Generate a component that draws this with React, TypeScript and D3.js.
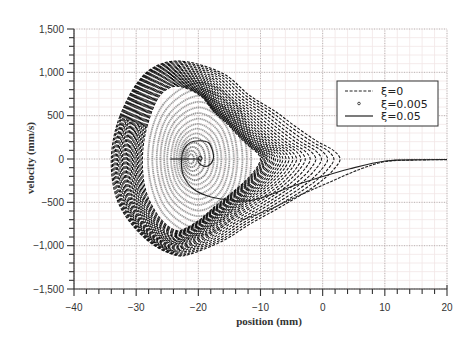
import * as d3 from "d3";

// ξ = 0 : drifting closed orbits (extents, outer → inner)
const orbitLeft = [-34.0, -33.8, -33.6, -33.4, -33.2, -33.0, -32.8, -32.6, -32.4, -32.2, -32.0, -31.8, -31.6, -31.4, -31.2, -31.0, -30.8, -30.6, -30.4, -30.2, -30.0, -29.8, -29.6, -29.4, -29.2, -29.0];
const orbitRight = [2.8, 1.8, 0.8, -0.2, -1.1, -2.0, -2.8, -3.5, -4.2, -4.8, -5.4, -5.9, -6.4, -6.8, -7.2, -7.6, -7.9, -8.2, -8.5, -8.8, -9.0, -9.2, -9.4, -9.6, -9.8, -10.0];
const orbitTop = [1130, 1120, 1108, 1096, 1084, 1072, 1060, 1048, 1036, 1024, 1012, 1000, 988, 976, 964, 952, 940, 928, 916, 904, 892, 880, 870, 860, 850, 840];
const orbitBottom = [-1120, -1110, -1098, -1086, -1074, -1062, -1050, -1038, -1026, -1014, -1002, -990, -978, -966, -954, -942, -930, -918, -906, -894, -882, -870, -860, -850, -840, -830];
// orbit profile: [fraction of width, fraction of top/bottom]
const orbitProfile: [number, number][] = [
  [0, 0], [0.038, 0.44], [0.155, 0.886], [0.28, 1], [0.49, 0.87], [0.606, 0.646],
  [0.72, 0.48], [0.8, 0.34], [0.9, 0.18], [0.975, 0.08], [1, 0], [0.975, -0.1],
  [0.9, -0.26], [0.75, -0.48], [0.606, -0.67], [0.49, -0.84], [0.345, -0.98],
  [0.3, -1], [0.2, -0.91], [0.095, -0.69], [0.024, -0.41],
];
// ξ = 0 entry path
const tailZeroX = [20, 15, 10.1, 6.1, 1.2, -3.6, -8.4, -13.3];
const tailZeroV = [-8, -12, -29, -115, -265, -415, -576, -714];

// ξ = 0.005 : decaying rings around the rest point
const ringCenter = [-19.8, -19.8, -19.8, -19.9, -19.9, -20.0, -20.0, -20.1, -20.2, -20.3, -20.5, -20.7, -20.9, -21.1, -21.2];
const ringAmpX = [8.3, 7.6, 6.9, 6.2, 5.6, 5.0, 4.4, 3.8, 3.3, 2.8, 2.3, 1.8, 1.3, 0.9, 0.5];
const ringAmpV = [880, 805, 730, 660, 595, 530, 465, 405, 350, 295, 245, 190, 140, 95, 55];

// ξ = 0.05 : path into the spiral
const dampX = [20, 15.7, 10.1, 4.4, -0.9, -5.2, -8.0, -11.7, -15.4, -18.6, -20.8, -22.4, -22.7, -22.3, -21.3, -19.7, -18.4, -17.8, -17.6, -18.4, -19.2, -20.0, -20.0, -19.7, -19.4, -19.7, -19.9];
const dampV = [-6, -9, -23, -112, -222, -322, -400, -480, -469, -423, -346, -192, 0, 115, 192, 211, 190, 115, 0, -77, -81, -35, 8, 35, 8, -20, 0];
const restX = [-24.5, -19.8];
const restV = [0, 0];

const xTicks = [-40, -30, -20, -10, 0, 10, 20];
const yTicks = [-1500, -1000, -500, 0, 500, 1000, 1500];
const legendLabels = ["ξ=0", "ξ=0.005", "ξ=0.05"];

const W = 474;
const H = 352;
const m = { left: 74, right: 27, top: 29, bottom: 63 };

export default function App() {
  const x = d3.scaleLinear().domain([-40, 20]).range([m.left, W - m.right]);
  const y = d3.scaleLinear().domain([-1500, 1500]).range([H - m.bottom, m.top]);
  const fmt = d3.format(",");

  const closed = d3
    .line<[number, number]>()
    .x((d) => x(d[0]))
    .y((d) => y(d[1]))
    .curve(d3.curveCatmullRomClosed.alpha(0.5));
  const open = d3
    .line<[number, number]>()
    .x((d) => x(d[0]))
    .y((d) => y(d[1]))
    .curve(d3.curveCatmullRom.alpha(0.5));

  const orbits = orbitLeft.map((L, i) => {
    const R = orbitRight[i];
    const pts = orbitProfile.map(
      ([u, w]) => [L + u * (R - L), w >= 0 ? w * orbitTop[i] : -w * orbitBottom[i]] as [number, number],
    );
    return closed(pts) ?? "";
  });

  const rings = ringAmpX.map((ax, i) => {
    const c = ringCenter[i];
    const av = ringAmpV[i];
    const pts: [number, number][] = [
      [c - ax, 0], [c - ax * 0.71, av * 0.71], [c, av], [c + ax * 0.71, av * 0.71], [c + ax, 0],
      [c + ax * 0.71, -av * 0.71], [c, -av], [c - ax * 0.71, -av * 0.71],
    ];
    return closed(pts) ?? "";
  });

  const xMinor = d3.range(-40, 20.01, 2);
  const yMinor = d3.range(-1500, 1500.1, 100);

  return (
    <svg width={W} height={H} style={{ position: "absolute", left: 0, top: 0, background: "#fff" }}>
      {/* minor grid */}
      {xMinor.map((v) => (
        <line key={`gx${v}`} x1={x(v)} x2={x(v)} y1={y(-1500)} y2={y(1500)} stroke="#f1e6e6" strokeWidth={0.8} />
      ))}
      {yMinor.map((v) => (
        <line key={`gy${v}`} x1={x(-40)} x2={x(20)} y1={y(v)} y2={y(v)} stroke="#f1e6e6" strokeWidth={0.8} />
      ))}
      {/* major grid */}
      {xTicks.map((v) => (
        <line key={`Gx${v}`} x1={x(v)} x2={x(v)} y1={y(-1500)} y2={y(1500)} stroke="#a8a8a8" strokeWidth={0.8} strokeDasharray="1 1.5" />
      ))}
      {yTicks.map((v) => (
        <line key={`Gy${v}`} x1={x(-40)} x2={x(20)} y1={y(v)} y2={y(v)} stroke="#a8a8a8" strokeWidth={0.8} strokeDasharray="1 1.5" />
      ))}

      {/* ξ = 0.005 */}
      {rings.map((d, i) => (
        <path key={`r${i}`} d={d} fill="none" stroke={i < 10 ? "#9e9e9e" : "#7e7e7e"} strokeWidth={1.8} strokeDasharray="1.3 0.6" />
      ))}

      {/* ξ = 0 */}
      {orbits.map((d, i) => (
        <path key={`o${i}`} d={d} fill="none" stroke="#111" strokeWidth={1.05} strokeDasharray="3 1.5" />
      ))}
      <path
        d={open(tailZeroX.map((v, i) => [v, tailZeroV[i]] as [number, number])) ?? ""}
        fill="none"
        stroke="#222"
        strokeWidth={1.1}
        strokeDasharray="3 1.2"
      />

      {/* ξ = 0.05 */}
      <path
        d={open(dampX.map((v, i) => [v, dampV[i]] as [number, number])) ?? ""}
        fill="none"
        stroke="#222"
        strokeWidth={1.1}
      />
      <path
        d={open(restX.map((v, i) => [v, restV[i]] as [number, number])) ?? ""}
        fill="none"
        stroke="#222"
        strokeWidth={1.1}
      />

      {/* axes */}
      <line x1={x(-40)} x2={x(20)} y1={y(-1500)} y2={y(-1500)} stroke="#333" strokeWidth={1.2} />
      <line x1={x(-40)} x2={x(-40)} y1={y(-1500)} y2={y(1500)} stroke="#333" strokeWidth={1.2} />
      {xMinor.map((v) => (
        <line key={`tx${v}`} x1={x(v)} x2={x(v)} y1={y(-1500)} y2={y(-1500) + (v % 10 === 0 ? 7 : 5)} stroke="#333" strokeWidth={1.1} />
      ))}
      <line x1={x(20)} x2={x(20)} y1={y(-1500)} y2={y(-1500) - 4} stroke="#333" strokeWidth={1.1} />
      {yMinor.map((v) => (
        <line key={`ty${v}`} x1={x(-40)} x2={x(-40) - (v % 500 === 0 ? 7 : 5)} y1={y(v)} y2={y(v)} stroke="#333" strokeWidth={1.1} />
      ))}
      {xTicks.map((v) => (
        <text key={`lx${v}`} x={x(v)} y={y(-1500) + 22} textAnchor="middle" fontFamily="Liberation Sans" fontSize={10} fill="#333">
          {v < 0 ? `\u2212${Math.abs(v)}` : v}
        </text>
      ))}
      {yTicks.map((v) => (
        <text key={`ly${v}`} x={x(-40) - 10} y={y(v) + 3.5} textAnchor="end" fontFamily="Liberation Sans" fontSize={10} fill="#333">
          {v < 0 ? `\u2212${fmt(Math.abs(v))}` : fmt(v)}
        </text>
      ))}
      <text x={269} y={325} textAnchor="middle" fontFamily="Liberation Serif" fontSize={11} fontWeight="bold" fill="#333">
        position (mm)
      </text>
      <text
        transform="translate(34,158) rotate(-90)"
        textAnchor="middle"
        fontFamily="Liberation Serif"
        fontSize={11}
        fontWeight="bold"
        fill="#333"
      >
        velocity (mm/s)
      </text>

      {/* legend */}
      <g transform="translate(337,81)">
        <rect x={0} y={0} width={101} height={45} fill="#fff" stroke="#333" strokeWidth={1} />
        {legendLabels.map((t, i) => (
          <g key={t} transform={`translate(0,${10 + i * 12.5})`}>
            {i === 0 && <line x1={8} x2={36} y1={0} y2={0} stroke="#222" strokeWidth={1} strokeDasharray="3 1.6" />}
            {i === 1 && <circle cx={22} cy={0} r={1.3} fill="none" stroke="#444" strokeWidth={1} />}
            {i === 2 && <line x1={8} x2={36} y1={0} y2={0} stroke="#222" strokeWidth={1.2} />}
            <text x={44} y={4} fontFamily="DejaVu Sans" fontSize={11} fill="#222">
              {t}
            </text>
          </g>
        ))}
      </g>
    </svg>
  );
}
